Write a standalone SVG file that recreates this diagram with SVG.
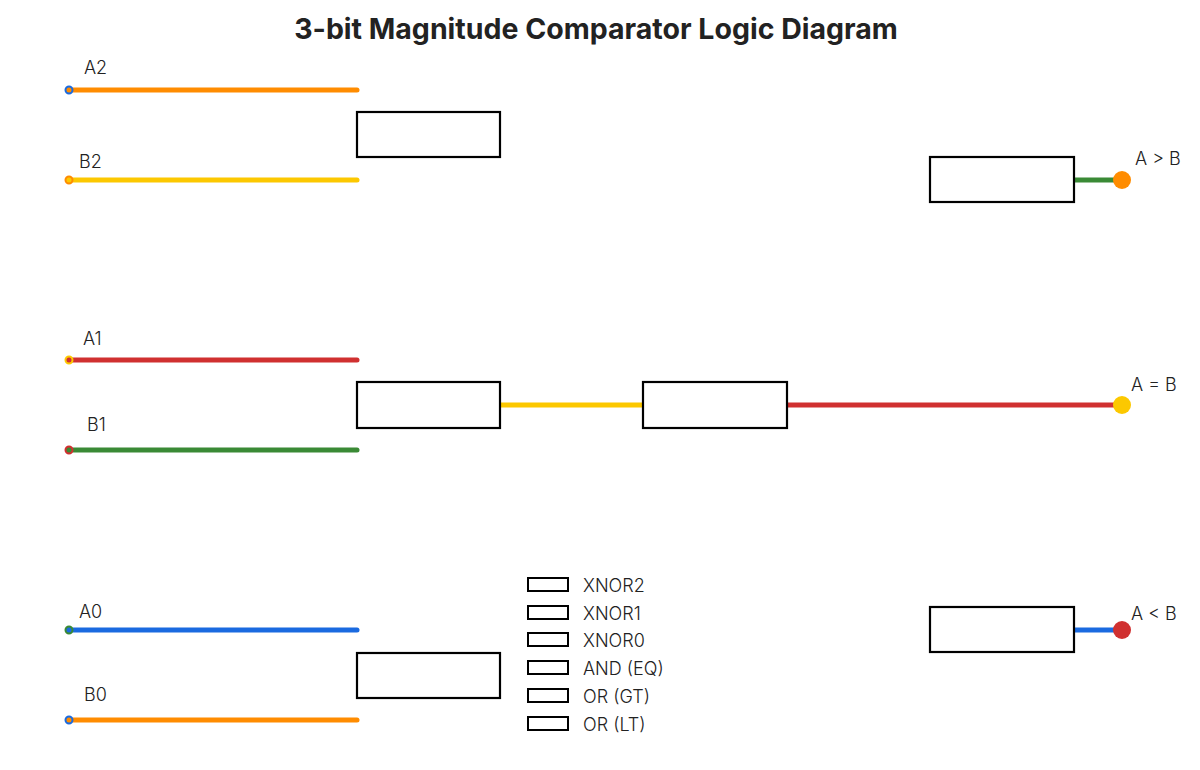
<svg xmlns="http://www.w3.org/2000/svg" width="1200" height="770" viewBox="0 0 1200 770">
<style>
text{font-family:Inter,"Noto Sans",sans-serif;fill:#222;font-size:18px;font-weight:300}
.t{font-size:28.5px;font-weight:bold;text-anchor:middle}
.g{fill:#fff;stroke:#000;stroke-width:2.2}
.w{stroke-width:5;stroke-linecap:round;fill:none}
.lg{fill:#fff;stroke:#000;stroke-width:2}
</style>
<rect width="1200" height="770" fill="#fff"/>
<text class="t" x="596" y="39">3-bit Magnitude Comparator Logic Diagram</text>
<g id="connectors">
<line class="w" x1="69" y1="90" x2="357" y2="90" stroke="#ff8c00"/>
<line class="w" x1="69" y1="180" x2="357" y2="180" stroke="#fcc800"/>
<line class="w" x1="69" y1="360" x2="357" y2="360" stroke="#d03030"/>
<line class="w" x1="69" y1="450" x2="357" y2="450" stroke="#3a8a35"/>
<line class="w" x1="69" y1="630" x2="357" y2="630" stroke="#1a6ae0"/>
<line class="w" x1="69" y1="720" x2="357" y2="720" stroke="#ff8c00"/>
<line class="w" x1="500" y1="405" x2="643" y2="405" stroke="#fcc800" stroke-linecap="butt"/>
<line class="w" x1="787" y1="405" x2="1122" y2="405" stroke="#d03030" stroke-linecap="butt"/>
<line class="w" x1="1074" y1="180" x2="1122" y2="180" stroke="#3a8a35" stroke-linecap="butt"/>
<line class="w" x1="1074" y1="630" x2="1122" y2="630" stroke="#1a6ae0" stroke-linecap="butt"/>
</g>
<g id="in-A2"><circle cx="69" cy="90" r="3.5" fill="#ff8c00" stroke="#1a6ae0" stroke-width="2"/><text x="84" y="74">A2</text></g>
<g id="in-B2"><circle cx="69" cy="180" r="3.5" fill="#fcc800" stroke="#ff8c00" stroke-width="2"/><text x="79" y="168">B2</text></g>
<g id="in-A1"><circle cx="69" cy="360" r="3.5" fill="#d03030" stroke="#fcc800" stroke-width="2"/><text x="83" y="345">A1</text></g>
<g id="in-B1"><circle cx="69" cy="450" r="3.5" fill="#3a8a35" stroke="#d03030" stroke-width="2"/><text x="87" y="431">B1</text></g>
<g id="in-A0"><circle cx="69" cy="630" r="3.5" fill="#1a6ae0" stroke="#3a8a35" stroke-width="2"/><text x="79" y="618">A0</text></g>
<g id="in-B0"><circle cx="69" cy="720" r="3.5" fill="#ff8c00" stroke="#1a6ae0" stroke-width="2"/><text x="84" y="701">B0</text></g>
<g id="xnor2"><rect class="g" x="357" y="112" width="143" height="45"/></g>
<g id="xnor1"><rect class="g" x="357" y="382" width="143" height="46"/></g>
<g id="xnor0"><rect class="g" x="357" y="653" width="143" height="45"/></g>
<g id="and-eq"><rect class="g" x="643" y="382" width="144" height="46"/></g>
<g id="or-gt"><rect class="g" x="930" y="157" width="144" height="45"/></g>
<g id="or-lt"><rect class="g" x="930" y="607" width="144" height="45"/></g>
<g id="out-gt"><circle cx="1122" cy="180" r="9" fill="#ff8c00"/><text x="1135" y="165">A &gt; B</text></g>
<g id="out-eq"><circle cx="1122" cy="405" r="9" fill="#fcc800"/><text x="1131" y="391">A = B</text></g>
<g id="out-lt"><circle cx="1122" cy="630" r="9" fill="#d03030"/><text x="1131" y="620">A &lt; B</text></g>
<g id="legend">
<rect class="lg" x="528" y="578" width="40" height="13"/><text x="583" y="592">XNOR2</text>
<rect class="lg" x="528" y="606" width="40" height="13"/><text x="583" y="620">XNOR1</text>
<rect class="lg" x="528" y="633" width="40" height="13"/><text x="583" y="647">XNOR0</text>
<rect class="lg" x="528" y="661" width="40" height="13"/><text x="583" y="675">AND (EQ)</text>
<rect class="lg" x="528" y="689" width="40" height="13"/><text x="583" y="703">OR (GT)</text>
<rect class="lg" x="528" y="717" width="40" height="13"/><text x="583" y="731">OR (LT)</text>
</g>
</svg>
